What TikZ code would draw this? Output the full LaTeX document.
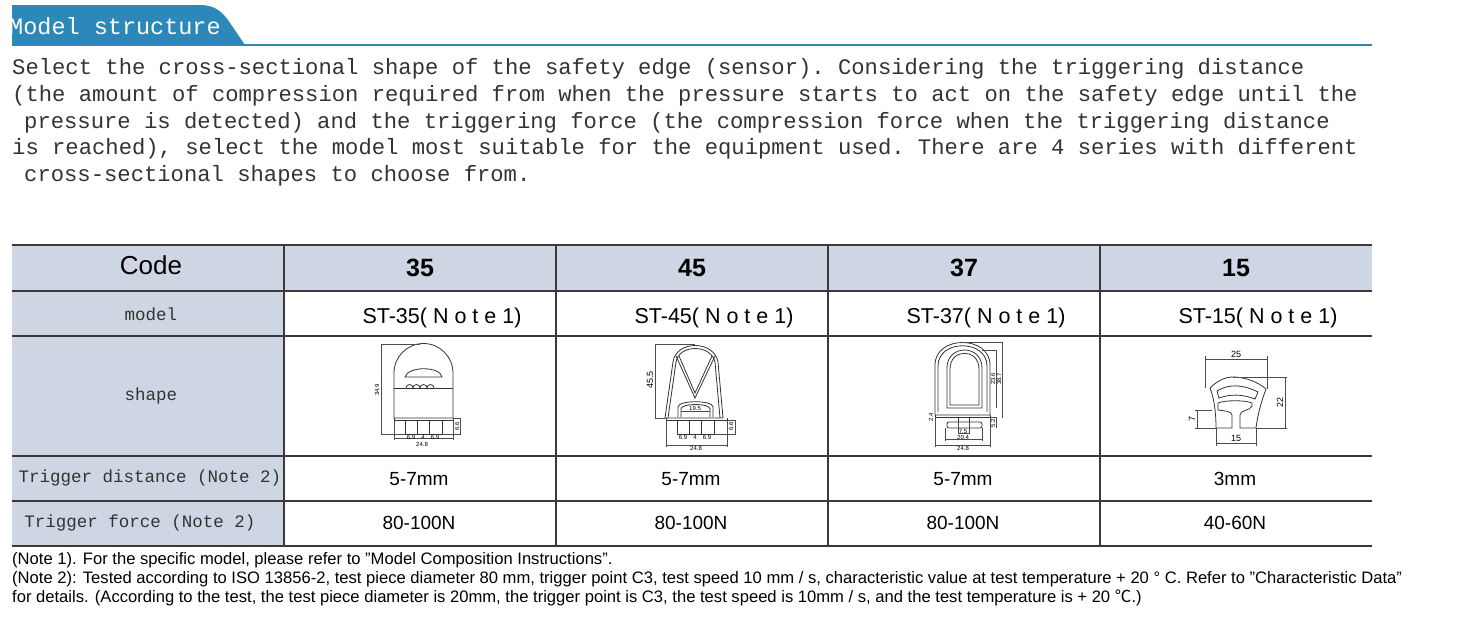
\documentclass[tikz,border=0pt]{standalone}
\usepackage{fontspec}
\setmainfont{Liberation Serif}
\setsansfont{Liberation Sans}
\setmonofont{Liberation Mono}
\newfontfamily\cjkfont{Noto Sans CJK SC}
\usetikzlibrary{arrows.meta}
\definecolor{hdr}{HTML}{2B88B8}
\definecolor{cellbg}{HTML}{CDD6E2}
\definecolor{grid}{HTML}{3A3A3A}
\tikzset{
 mono/.style={font=\ttfamily\fontsize{22.2}{26}\selectfont,text=black!80,anchor=west,inner sep=0},
 lbl/.style={font=\ttfamily\fontsize{17.5}{20}\selectfont,text=black!80,inner sep=0},
 big/.style={font=\sffamily\bfseries\fontsize{25}{28}\selectfont,inner sep=0},
 mdl/.style={font=\sffamily\fontsize{21.5}{24}\selectfont,inner sep=0},
 val/.style={font=\sffamily\fontsize{19}{22}\selectfont,inner sep=0},
 note/.style={font=\sffamily\fontsize{16.6}{20}\selectfont,anchor=west,inner sep=0},
 sh/.style={line width=0.8pt,black!80},
 dim/.style={line width=0.4pt,black!70},
 tiny/.style={font=\sffamily\fontsize{6}{7}\selectfont,inner sep=0.5pt},
 small/.style={font=\sffamily\fontsize{9}{10}\selectfont,inner sep=0.5pt},
}
\begin{document}
\begin{tikzpicture}[x=1pt,y=-1pt]
\useasboundingbox (0,0) rectangle (1465,637);
% title band
\fill[hdr] (12,5) -- (200,5) .. controls (215,5) and (222,12) .. (228,20) -- (245,45) -- (12,45) -- cycle;
\draw[hdr,line width=1.5pt] (12,45) -- (1372,45);
\node[mono,text=white,font=\ttfamily\fontsize{23.5}{26}\selectfont] (title) at (9,26) {Model structure};
% paragraph
\node[mono] (p1) at (12,69) {Select the cross-sectional shape of the safety edge (sensor). Considering the triggering distance};
\node[mono] (p2) at (12,96) {(the amount of compression required from when the pressure starts to act on the safety edge until the};
\node[mono] (p3) at (24,123) {pressure is detected) and the triggering force (the compression force when the triggering distance};
\node[mono] (p4) at (12,149) {is reached), select the model most suitable for the equipment used. There are 4 series with different};
\node[mono] (p5) at (24,176) {cross-sectional shapes to choose from.};
% table backgrounds
\fill[cellbg] (12,245) rectangle (1372,291);
\fill[cellbg] (12,291) rectangle (284,546);
% grid
\foreach \y in {245,291,336,456,501,546} \draw[grid,line width=1.6pt] (12,\y) -- (1372,\y);
\foreach \x in {284,556,828,1100} \draw[grid,line width=1.6pt] (\x,245) -- (\x,546);
% header
\node[big,font=\sffamily\fontsize{26}{28}\selectfont] (code) at (151,265) {Code};
\node[big] (c35) at (420,268) {35};
\node[big] (c45) at (692,268) {45};
\node[big] (c37) at (964,268) {37};
\node[big] (c15) at (1236,268) {15};
\node[lbl] (lmodel) at (151,314) {model};
\node[lbl] (lshape) at (151,396) {shape};
\node[lbl] (ldist) at (150,478) {Trigger distance (Note 2)};
\node[lbl] (lforce) at (140,523) {Trigger force (Note 2)};
\node[mdl] (m35) at (442,318) {ST-35( N o t e 1)};
\node[mdl] (m45) at (714,318) {ST-45( N o t e 1)};
\node[mdl] (m37) at (986,318) {ST-37( N o t e 1)};
\node[mdl] (m15) at (1258,318) {ST-15( N o t e 1)};
\node[val] (d35) at (419,479) {5-7mm};
\node[val] (d45) at (691,479) {5-7mm};
\node[val] (d37) at (963,479) {5-7mm};
\node[val] (d15) at (1235,479) {3mm};
\node[val] (f35) at (419,523) {80-100N};
\node[val] (f45) at (691,523) {80-100N};
\node[val] (f37) at (963,523) {80-100N};
\node[val] (f15) at (1235,523) {40-60N};
% notes
\node[note] (n1) at (12,560) {(Note 1). For the specific model, please refer to "Model Composition Instructions".};
\node[note] (n2) at (12,579) {(Note 2): Tested according to ISO 13856-2, test piece diameter 80 mm, trigger point C3, test speed 10 mm / s, characteristic value at test temperature + 20 ° C. Refer to "Characteristic Data"};
\node[note] (n3) at (12,598) {for details. (According to the test, the test piece diameter is 20mm, the trigger point is C3, the test speed is 10mm / s, and the test temperature is + 20 {\cjkfont ℃}.)};
% ---- shape 35
\draw[sh] (394,418) -- (394,373) arc (180:360:29.5) -- (453,418) -- cycle;
\draw[sh] (394,388) -- (453,388);
\draw[sh] (405,377) .. controls (408,366) and (440,366) .. (442,377) -- cycle;
\draw[sh] (406,388) arc (180:360:3.5) arc (180:360:3.5) arc (180:360:3.5) arc (180:360:3.5);
\draw[sh] (394,418) -- (394,420) -- (453,420) -- (453,418);
\draw[sh] (405,420) -- (405,434) -- (442,434) -- (442,420);
\draw[sh] (417,420) -- (417,434) (429,420) -- (429,434);
\draw[dim] (381,344) -- (420,344) (381,344) -- (381,434) -- (405,434);
\node[tiny,rotate=90] (t349) at (377,390) {34.9};
\draw[dim] (394,438) -- (453,438) (394,420) -- (394,440) (453,420) -- (453,440);
\node[tiny] (t248a) at (422,444) {24.8};
\node[tiny] (t69a) at (411,437) {6.9}; \node[tiny] (t4a) at (423,437) {4}; \node[tiny] (t69b) at (435,437) {6.9};
\draw[dim] (453,418) -- (460,418) -- (460,434) -- (442,434);
\node[tiny,rotate=90] (t66a) at (457,426) {6.6};
% ---- shape 45
\draw[sh] (665,418) -- (673,362) .. controls (676,340) and (714,340) .. (718,362) -- (723,418) -- cycle;
\draw[sh] (668,418) -- (676,362) .. controls (679,344) and (711,344) .. (715,362) -- (720,418);
\draw[sh] (676,356) -- (695,398) -- (715,356);
\draw[sh] (679,356) -- (695,393) -- (712,356);
\draw[sh] (678,417) -- (678,407) .. controls (678,400) and (713,400) .. (713,407) -- (713,417);
\draw[sh] (681,417) -- (681,409) .. controls (681,403) and (710,403) .. (710,409) -- (710,417);
\draw[dim] (681,411) -- (710,411);
\node[tiny] (t195) at (695,408) {19.5};
\draw[sh] (666,418) -- (666,420) -- (727,420) -- (727,418);
\draw[sh] (677,420) -- (677,434) -- (714,434) -- (714,420);
\draw[sh] (689,420) -- (689,434) (701,420) -- (701,434);
\draw[dim] (655,344) -- (695,344) (655,344) -- (655,418) -- (665,418);
\node[small,rotate=90] (t455) at (650,380) {45.5};
\draw[dim] (666,445) -- (727,445) (666,420) -- (666,447) (727,420) -- (727,447);
\node[tiny] (t248b) at (696,448) {24.8};
\node[tiny] (t69c) at (683,437) {6.9}; \node[tiny] (t4b) at (695,437) {4}; \node[tiny] (t69d) at (707,437) {6.9};
\draw[dim] (727,420) -- (735,420) -- (735,434) -- (714,434);
\node[tiny,rotate=90] (t66b) at (731,426) {6.6};
% ---- shape 37
\draw[sh] (935,415) -- (935,365) .. controls (935,335) and (990,335) .. (990,365) -- (990,415) -- cycle;
\draw[sh] (938,412) -- (938,366) .. controls (938,339) and (987,339) .. (987,366) -- (987,412);
\draw[sh] (947,408) -- (947,368) .. controls (947,344) and (982,344) .. (982,368) -- (982,408) -- cycle;
\draw[sh] (950,405) -- (950,369) .. controls (950,348) and (979,348) .. (979,369) -- (979,405) -- cycle;
\draw[sh] (935,415) -- (935,417) -- (990,417) -- (990,415);
\draw[sh] (958,417) -- (958,422) (969,417) -- (969,422);
\draw[sh,rounded corners=2pt] (947,422) rectangle (982,428);
\draw[dim] (962,342) -- (1002,342) -- (1002,418) (982,350) -- (996,350) -- (996,408);
\node[tiny,rotate=90] (t236) at (993,379) {23.6};
\node[tiny,rotate=90] (t387) at (999,379) {38.7};
\draw[dim] (990,417) -- (996,417) -- (996,428);
\node[tiny,rotate=90] (t52) at (993,423) {5.2};
\node[tiny,rotate=90] (t24) at (931,417) {2.4};
\draw[dim] (935,417) -- (935,447) (990,417) -- (990,447) (935,445) -- (990,445);
\draw[dim] (945,428) -- (945,441) (982,428) -- (982,441) (945,439) -- (982,439);
\draw[dim] (958,422) -- (958,434) (969,422) -- (969,434) (958,433) -- (969,433);
\node[tiny] (t75) at (963,431) {7.5};
\node[tiny] (t204) at (963,437) {20.4};
\node[tiny] (t248c) at (963,448) {24.8};
% ---- shape 15
\draw[sh] (1210,388) .. controls (1218,380) and (1226,377) .. (1233,377) .. controls (1245,377) and (1258,382) .. (1266,389)
  .. controls (1262,400) and (1258,412) .. (1256,428) -- (1245,428) -- (1240,428) -- (1240,415) .. controls (1240,410) and (1250,411) .. (1252,406)
  -- (1252,403) .. controls (1245,400) and (1225,400) .. (1218,403) -- (1218,410) .. controls (1224,411) and (1232,411) .. (1232,415) -- (1232,428) -- (1216,428)
  .. controls (1216,412) and (1214,398) .. (1210,388) -- cycle;
\draw[sh] (1217,391) .. controls (1228,384) and (1242,384) .. (1258,392) -- (1255,399) .. controls (1242,394) and (1230,394) .. (1219,398) -- cycle;
\draw[dim] (1205,359) -- (1267,359) (1205,356) -- (1205,388) (1267,356) -- (1267,389);
\node[small] (t25) at (1236,354) {25};
\draw[dim] (1233,377) -- (1287,377) (1256,428) -- (1287,428) (1285,377) -- (1285,428);
\node[small,rotate=90] (t22) at (1280,402) {22};
\draw[dim] (1216,428) -- (1216,446) (1256,428) -- (1256,446) (1216,443) -- (1256,443);
\node[small] (t15) at (1236,438) {15};
\draw[dim] (1195,410) -- (1212,410) (1195,428) -- (1216,428) (1197,410) -- (1197,428);
\node[small,rotate=90] (t7) at (1192,419) {7};
\end{tikzpicture}
\end{document}
